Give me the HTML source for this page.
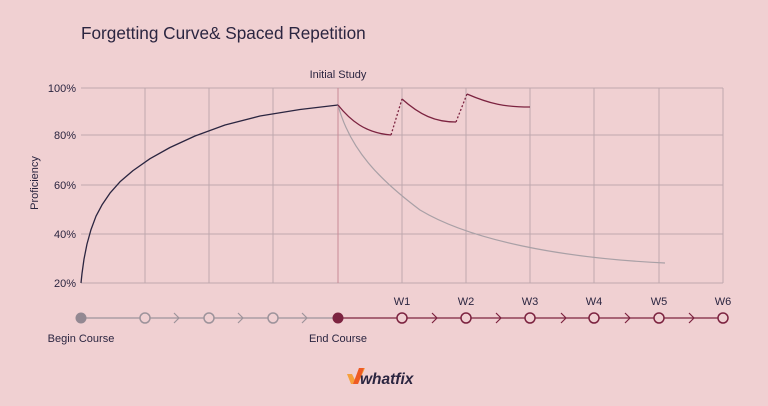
<!DOCTYPE html>
<html><head><meta charset="utf-8"><style>
html,body{margin:0;padding:0;background:#f0d0d2;}
svg{display:block;font-family:"Liberation Sans",sans-serif;}
</style></head><body>
<svg width="768" height="406" viewBox="0 0 768 406" xmlns="http://www.w3.org/2000/svg">
<rect width="768" height="406" fill="#f0d0d2"/>
<text x="81" y="39" font-size="17.2" fill="#2b2540">Forgetting Curve&amp; Spaced Repetition</text>
<text x="338" y="78" font-size="11" fill="#2b2540" text-anchor="middle">Initial Study</text>
<g stroke="#bfa8ae" stroke-width="1" fill="none">
<line x1="81" y1="88" x2="723" y2="88"/><line x1="81" y1="135" x2="723" y2="135"/>
<line x1="81" y1="185" x2="723" y2="185"/><line x1="81" y1="234" x2="723" y2="234"/>
<line x1="81" y1="283" x2="723" y2="283"/>
<line x1="145" y1="88" x2="145" y2="283"/><line x1="209" y1="88" x2="209" y2="283"/>
<line x1="273" y1="88" x2="273" y2="283"/>
<line x1="402" y1="88" x2="402" y2="283"/><line x1="466" y1="88" x2="466" y2="283"/>
<line x1="530" y1="88" x2="530" y2="283"/><line x1="594" y1="88" x2="594" y2="283"/>
<line x1="659" y1="88" x2="659" y2="283"/><line x1="723" y1="88" x2="723" y2="283"/>
</g>
<line x1="338" y1="88" x2="338" y2="283" stroke="#c88a96" stroke-width="1"/>
<g font-size="11" fill="#2b2540" text-anchor="end">
<text x="76" y="92">100%</text><text x="76" y="139">80%</text><text x="76" y="189">60%</text>
<text x="76" y="238">40%</text><text x="76" y="287">20%</text>
</g>
<text transform="translate(38,183) rotate(-90)" font-size="11" fill="#2b2540" text-anchor="middle">Proficiency</text>
<polyline points="81,283 82,273.5 84,259.1 87,244 91,229.6 96,216.2 102,204.9 110,193.1 120,181.8 133,170.6 150,158.7 170,147.5 195,136 225,125 260,116 300,109.5 338,105" stroke="#2b2540" stroke-width="1.3" fill="none" stroke-linejoin="round"/>
<path d="M338,105 C350,150 380,180 420,210 C470,240 560,258 665,263" stroke="#a9a0a6" stroke-width="1.2" fill="none"/>
<g stroke="#7c2340" stroke-width="1.3" fill="none">
<path d="M338,105 C350,120 365,133 391,135"/>
<path d="M402,99 C420,115 435,122 456,122"/>
<path d="M467,94 C490,104 505,107 530,107"/>
<path d="M391,135 L402,99 M456,122 L467,94" stroke-dasharray="2,2"/>
</g>
<line x1="81" y1="318" x2="338" y2="318" stroke="#9d939b" stroke-width="1.2"/>
<line x1="338" y1="318" x2="723" y2="318" stroke="#7c2340" stroke-width="1.2"/>
<circle cx="81" cy="318" r="5.5" fill="#938892"/>
<g fill="#f0d0d2" stroke="#9d939b" stroke-width="1.5">
<circle cx="145" cy="318" r="5"/><circle cx="209" cy="318" r="5"/><circle cx="273" cy="318" r="5"/>
</g>
<g fill="none" stroke="#9d939b" stroke-width="1.2">
<path d="M174,313 L179,318 L174,323"/><path d="M238,313 L243,318 L238,323"/><path d="M302,313 L307,318 L302,323"/>
</g>
<circle cx="338" cy="318" r="5.5" fill="#7c2340"/>
<g fill="#f0d0d2" stroke="#7c2340" stroke-width="1.5">
<circle cx="402" cy="318" r="5"/><circle cx="466" cy="318" r="5"/><circle cx="530" cy="318" r="5"/>
<circle cx="594" cy="318" r="5"/><circle cx="659" cy="318" r="5"/><circle cx="723" cy="318" r="5"/>
</g>
<g fill="none" stroke="#7c2340" stroke-width="1.2">
<path d="M432,313 L437,318 L432,323"/><path d="M496,313 L501,318 L496,323"/>
<path d="M561,313 L566,318 L561,323"/><path d="M625,313 L630,318 L625,323"/>
<path d="M689,313 L694,318 L689,323"/>
</g>
<g font-size="11" fill="#2b2540" text-anchor="middle">
<text x="402" y="305">W1</text><text x="466" y="305">W2</text><text x="530" y="305">W3</text>
<text x="594" y="305">W4</text><text x="659" y="305">W5</text><text x="723" y="305">W6</text>
<text x="81" y="342">Begin Course</text><text x="338" y="342">End Course</text>
</g>
<path d="M347,374 L352,374 L355,380 L359,368 L365,368 L358,384 L351,384 Z" fill="#f6a03c"/>
<path d="M353,384 L359,368 L364,368 L358,384 Z" fill="#ee5a24"/>
<text x="360" y="384" font-size="15.5" font-weight="bold" font-style="italic" fill="#2b2540">whatfix</text>
</svg>
</body></html>
